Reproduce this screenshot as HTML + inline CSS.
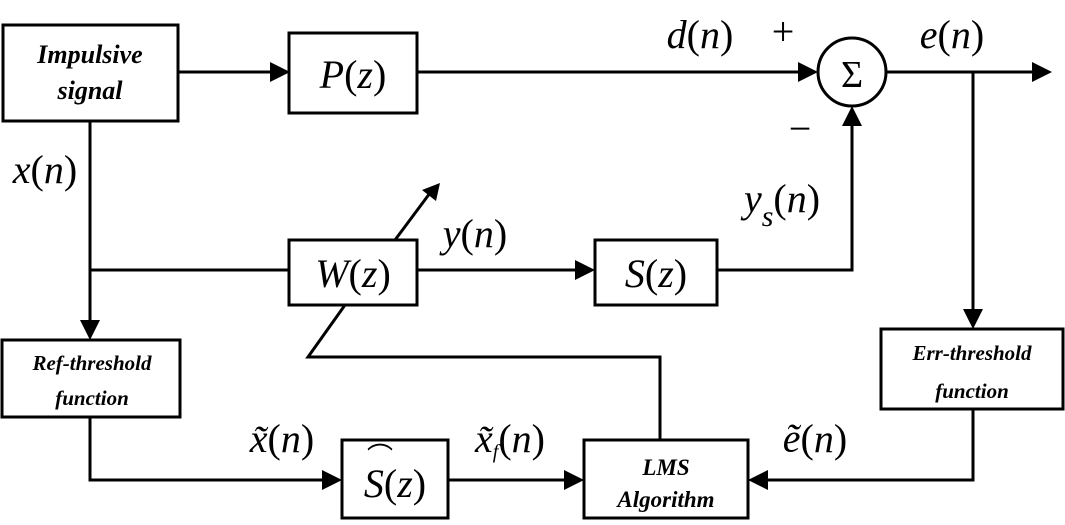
<!DOCTYPE html>
<html><head><style>body{margin:0;background:#fff}</style></head><body>
<svg width="1065" height="520" viewBox="0 0 1065 520" xmlns="http://www.w3.org/2000/svg" font-family="Liberation Serif, serif">
<defs><marker id="a" markerWidth="10" markerHeight="10" refX="9" refY="5" orient="auto" markerUnits="userSpaceOnUse"><path d="M0,0 L0,0 L19,0" fill="none"/></marker></defs>
<g stroke="#000" stroke-width="3" fill="none">
<rect x="3" y="25" width="175" height="96"/>
<rect x="289" y="33" width="128" height="80"/>
<rect x="289" y="240" width="128" height="65"/>
<rect x="595" y="240" width="122" height="65"/>
<rect x="2" y="340" width="178" height="77"/>
<rect x="881" y="329" width="182" height="80"/>
<rect x="342" y="440" width="106" height="78"/>
<rect x="584" y="440" width="164" height="78"/>
<circle cx="852" cy="72" r="34"/>
<path d="M178 72H270"/>
<path d="M417 72H798"/>
<path d="M886 72H1032"/>
<path d="M973 72V309"/>
<path d="M90 121V320"/>
<path d="M90 270H289"/>
<path d="M417 270H575"/>
<path d="M717 270H852V126"/>
<path d="M395 240L430 193"/>
<path d="M345 305L308 357H660V440"/>
<path d="M90 417V480H322"/>
<path d="M448 480H564"/>
<path d="M973 409V480H768"/>
</g>
<g fill="#000">
<path d="M290 72L270 62V82Z"/>
<path d="M818 72L798 62V82Z"/>
<path d="M1052 72L1032 62V82Z"/>
<path d="M852 106L842 126H862Z"/>
<path d="M90 340L80 320H100Z"/>
<path d="M973 329L963 309H983Z"/>
<path d="M595 270L575 260V280Z"/>
<path d="M440 183L422 190L436 201Z"/>
<path d="M342 480L322 470V490Z"/>
<path d="M584 480L564 470V490Z"/>
<path d="M748 480L768 470V490Z"/>
</g>
<g font-style="italic" font-weight="bold" text-anchor="middle" font-size="26">
<text x="90" y="63">Impulsive</text><text x="90" y="99">signal</text>
<text x="92" y="370" font-size="21">Ref-threshold</text><text x="92" y="405" font-size="21">function</text>
<text x="972" y="360" font-size="21">Err-threshold</text><text x="972" y="398" font-size="21">function</text>
<text x="666" y="475" font-size="23">LMS</text><text x="666" y="507" font-size="23">Algorithm</text>
</g>
<g font-size="40" text-anchor="middle">
<text x="353" y="88"><tspan font-style="italic">P</tspan>(<tspan font-style="italic">z</tspan>)</text>
<text x="353" y="287"><tspan font-style="italic">W</tspan>(<tspan font-style="italic">z</tspan>)</text>
<text x="656" y="287"><tspan font-style="italic">S</tspan>(<tspan font-style="italic">z</tspan>)</text>
<text x="395" y="497"><tspan font-style="italic">S</tspan>(<tspan font-style="italic">z</tspan>)</text>
<text x="380" y="466" font-size="26">⌒</text>
<text x="852" y="87" font-size="38">Σ</text>
<text x="45" y="183"><tspan font-style="italic">x</tspan>(<tspan font-style="italic">n</tspan>)</text>
<text x="700" y="48"><tspan font-style="italic">d</tspan>(<tspan font-style="italic">n</tspan>)</text>
<text x="783" y="45">+</text>
<text x="952" y="48"><tspan font-style="italic">e</tspan>(<tspan font-style="italic">n</tspan>)</text>
<text x="800" y="142">−</text>
<text x="782" y="212"><tspan font-style="italic">y</tspan><tspan font-size="30" font-style="italic" dy="14">s</tspan><tspan dy="-14">(</tspan><tspan font-style="italic">n</tspan>)</text>
<text x="475" y="247"><tspan font-style="italic">y</tspan>(<tspan font-style="italic">n</tspan>)</text>
<text x="282" y="452"><tspan font-style="italic">x̃</tspan>(<tspan font-style="italic">n</tspan>)</text>
<text x="510" y="452"><tspan font-style="italic">x̃</tspan><tspan font-size="20" font-style="italic" dy="6">f</tspan><tspan dy="-6">(</tspan><tspan font-style="italic">n</tspan>)</text>
<text x="815" y="452"><tspan font-style="italic">ẽ</tspan>(<tspan font-style="italic">n</tspan>)</text>
</g>
</svg>
</body></html>
